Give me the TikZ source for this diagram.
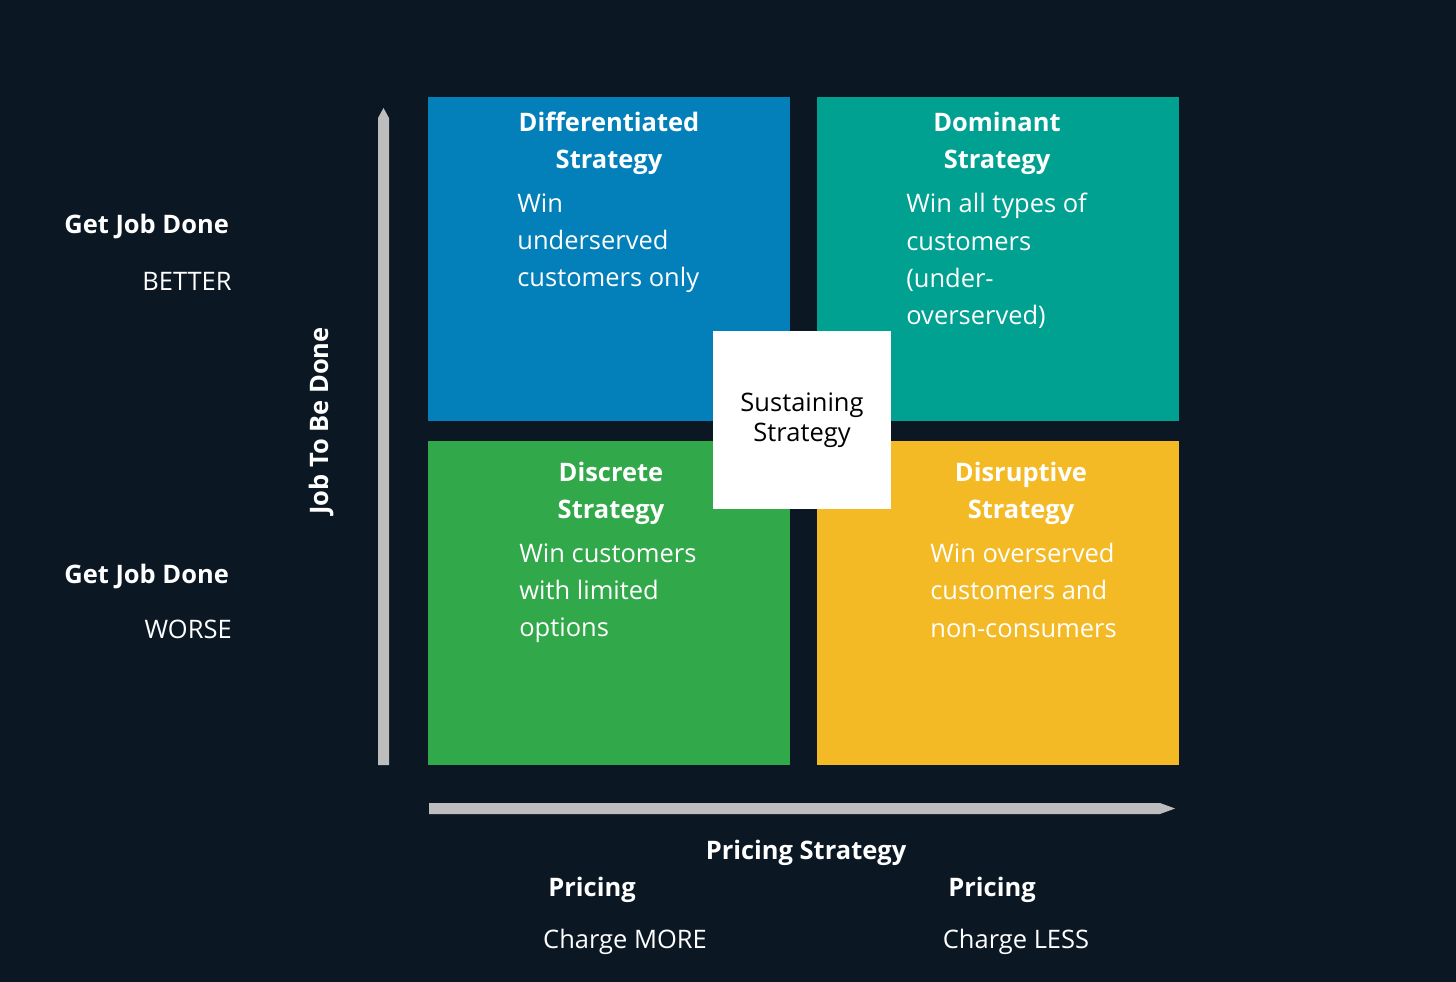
\documentclass[tikz,border=0pt]{standalone}
\usepackage{fontspec}
\setmainfont{Open Sans}
\usetikzlibrary{positioning}
\definecolor{bgnavy}{HTML}{0B1824}
\definecolor{qblue}{HTML}{0380BA}
\definecolor{qteal}{HTML}{00A191}
\definecolor{qgreen}{HTML}{31A94A}
\definecolor{qyellow}{HTML}{F4BA26}
\definecolor{axisgray}{HTML}{BDBDBD}
\tikzset{
  quad/.style={rectangle, minimum width=7.24cm, minimum height=6.48cm, inner sep=0pt, anchor=north west},
  head/.style={text=white, font=\fontsize{14.5}{21}\selectfont\bfseries, align=center, anchor=north, inner sep=0pt},
  body/.style={text=white, font=\fontsize{14.5}{21.2}\selectfont, align=left, anchor=north west, inner sep=0pt},
  side/.style={text=white, font=\fontsize{14.5}{21}\selectfont, inner sep=0pt}
}
\begin{document}
\begin{tikzpicture}[x=0.02cm, y=-0.02cm]
  \fill[bgnavy] (0,0) rectangle (1456,982);
  \useasboundingbox (0,0) rectangle (1456,982);

  % quadrants
  \node[quad, fill=qblue] (diff) at (428,97) {};
  \node[quad, fill=qteal] (dom) at (817,97) {};
  \node[quad, fill=qgreen] (disc) at (428,441) {};
  \node[quad, fill=qyellow] (disr) at (817,441) {};
  \node[rectangle, fill=white, minimum size=3.56cm, inner sep=0pt] (sust) at (802,420) {};
  \node[font=\fontsize{14.5}{17}\selectfont, align=center] at (sust) {Sustaining\\Strategy};

  \node[head] (diffh) at (609,112) {Differentiated\\Strategy};
  \node[body] at (517,193) {Win\\underserved\\customers only};
  \node[head] (domh) at (997,112) {Dominant\\Strategy};
  \node[body] at (906,193) {Win all types of\\customers\\(under-\\overserved)};
  \node[head] (disch) at (611,462) {Discrete\\Strategy};
  \node[body] at (519,543) {Win customers\\with limited\\options};
  \node[head] (disrh) at (1021,462) {Disruptive\\Strategy};
  \node[body] at (930,543) {Win overserved\\customers and\\non-consumers};

  % axes
  \coordinate (ytop) at (383.5,108);
  \coordinate (xtip) at (1175,808.5);
  \fill[axisgray] (378,765) -- (378,118) -- (ytop) -- (389,118) -- (389,765) -- cycle;
  \fill[axisgray] (429,803) -- (1160,803) -- (xtip) -- (1160,814) -- (429,814) -- cycle;

  % axis labels
  \node[side, font=\fontsize{14.5}{21}\selectfont\bfseries, rotate=90] at (321,421) {Job To Be Done};
  \node[side, font=\fontsize{14.5}{21}\selectfont\bfseries, anchor=west] at (64,227) {Get Job Done};
  \node[side, anchor=east] at (232,281) {BETTER};
  \node[side, font=\fontsize{14.5}{21}\selectfont\bfseries, anchor=west] at (64,576) {Get Job Done};
  \node[side, anchor=east] at (232,629) {WORSE};

  \node[side, font=\fontsize{14.5}{21}\selectfont\bfseries] at (806,853) {Pricing Strategy};
  \node[side, font=\fontsize{14.5}{21}\selectfont\bfseries] at (592,890) {Pricing};
  \node[side] at (625,942) {Charge MORE};
  \node[side, font=\fontsize{14.5}{21}\selectfont\bfseries] at (992,890) {Pricing};
  \node[side] at (1016,942) {Charge LESS};
\end{tikzpicture}
\end{document}
